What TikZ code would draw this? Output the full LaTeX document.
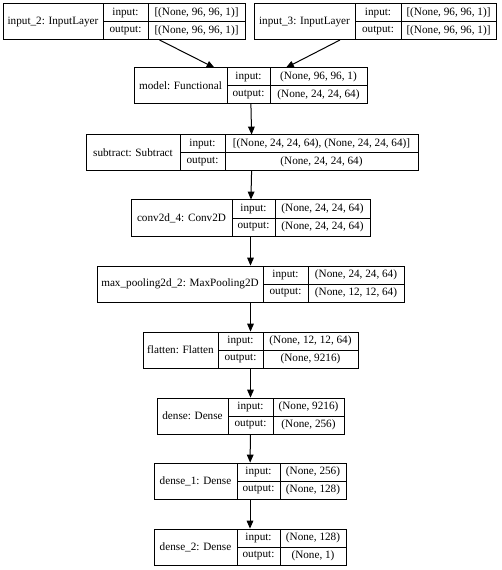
\documentclass[tikz,border=0pt]{standalone}
\usepackage{fontspec}
\setmainfont{Liberation Serif}
\usetikzlibrary{arrows.meta}
\tikzset{
  box/.style={draw, rectangle, line width=0.75pt, inner sep=0pt, outer sep=0pt},
  cell/.style={line width=0.75pt},
  txt/.style={inner sep=0pt, font=\fontsize{8.4}{10}\selectfont},
  arr/.style={line width=0.75pt, -{Triangle[length=6pt,width=5pt]}, shorten >=0.3pt}
}
% name, x0, x1, x2, x3, ytop, label, input, output
\newcommand{\layerbox}[9]{%
  \node[box, minimum width={(#5-#2)*0.75pt}, minimum height={36*0.75pt}] (#1) at ({(#2+#5)/2},{#6+18}) {};
  \draw[cell] (#3,#6) -- (#3,#6+36);
  \draw[cell] (#4,#6) -- (#4,#6+36);
  \draw[cell] (#3,#6+18) -- (#5,#6+18);
  \node[txt] (#1-n) at ({(#2+#3)/2},{#6+18}) {#7};
  \node[txt] (#1-il) at ({(#3+#4)/2},{#6+9}) {input:};
  \node[txt] (#1-ol) at ({(#3+#4)/2},{#6+27}) {output:};
  \node[txt] (#1-iv) at ({(#4+#5)/2},{#6+9}) {#8};
  \node[txt] (#1-ov) at ({(#4+#5)/2},{#6+27}) {#9};
}
\begin{document}
\begin{tikzpicture}[x=0.75pt,y=-0.75pt]
\useasboundingbox (0,0) rectangle (502,570);
\layerbox{in2}{3}{103}{148}{245}{4}{input\_2: InputLayer}{[(None, 96, 96, 1)]}{[(None, 96, 96, 1)]}
\layerbox{in3}{254}{355}{401}{496}{4}{input\_3: InputLayer}{[(None, 96, 96, 1)]}{[(None, 96, 96, 1)]}
\layerbox{model}{134}{227}{270}{367}{68}{model: Functional}{(None, 96, 96, 1)}{(None, 24, 24, 64)}
\layerbox{sub}{86}{180}{225}{418}{135}{subtract: Subtract}{[(None, 24, 24, 64), (None, 24, 24, 64)]}{(None, 24, 24, 64)}
\layerbox{conv}{131}{232}{275}{370}{200}{conv2d\_4: Conv2D}{(None, 24, 24, 64)}{(None, 24, 24, 64)}
\layerbox{pool}{97}{263}{308}{404}{266}{max\_pooling2d\_2: MaxPooling2D}{(None, 24, 24, 64)}{(None, 12, 12, 64)}
\layerbox{flat}{143}{218}{263}{358}{332}{flatten: Flatten}{(None, 12, 12, 64)}{(None, 9216)}
\layerbox{d0}{157}{228}{273}{344}{398}{dense: Dense}{(None, 9216)}{(None, 256)}
\layerbox{d1}{154}{237}{280}{346}{463}{dense\_1: Dense}{(None, 256)}{(None, 128)}
\layerbox{d2}{154}{237}{280}{346}{529}{dense\_2: Dense}{(None, 128)}{(None, 1)}
\draw[arr] (in2) -- (model);
\draw[arr] (in3) -- (model);
\draw[arr] (model) -- (sub);
\draw[arr] (sub) -- (conv);
\draw[arr] (conv) -- (pool);
\draw[arr] (pool) -- (flat);
\draw[arr] (flat) -- (d0);
\draw[arr] (d0) -- (d1);
\draw[arr] (d1) -- (d2);
\end{tikzpicture}
\end{document}
